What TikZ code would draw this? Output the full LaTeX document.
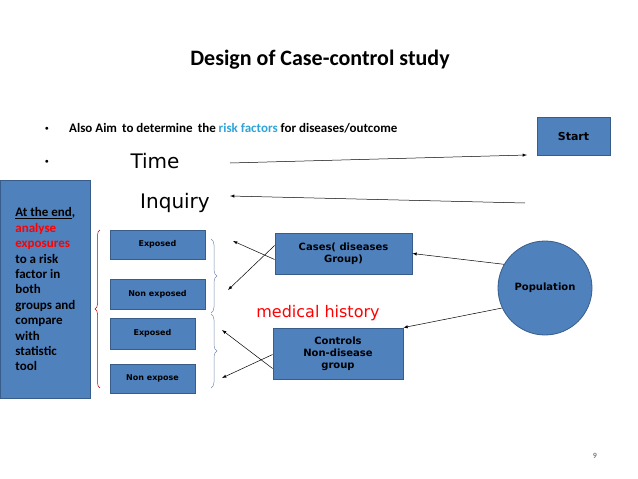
\documentclass[tikz,border=0pt]{standalone}
\usepackage{fontspec}
\setmainfont{Carlito}
\newfontfamily\cond{Carlito}
\newfontfamily\djv{DejaVu Sans}
\usetikzlibrary{decorations.pathreplacing}
\definecolor{bx}{HTML}{4F81BD}
\definecolor{bd}{HTML}{385D8A}
\definecolor{rf}{HTML}{2FA4D8}
\begin{document}
\begin{tikzpicture}[x=1pt,y=-1pt,
 box/.style={draw=bd,fill=bx,line width=0.8pt,inner sep=2pt,font=\djv\bfseries\fontsize{8}{9.5}\selectfont,align=center},
 arr/.style={-latex,line width=0.5pt},
 every node/.style={inner sep=1pt}]
\useasboundingbox (0,0) rectangle (638,479);
\node (title) at (320,60) {\bfseries\fontsize{22}{26}\selectfont Design of Case-control study};
\node (b1) at (47,129) {\fontsize{7}{8}\selectfont $\bullet$};
\node (b2) at (47,162) {\fontsize{7}{8}\selectfont $\bullet$};
\node[anchor=west] (aim) at (68,128) {\bfseries\fontsize{13}{15}\selectfont Also Aim\, to determine\, the \textcolor{rf}{risk factors} for diseases/outcome};
\node[box,minimum width=73pt,minimum height=38pt,font=\djv\bfseries\fontsize{11}{13}\selectfont] (start) at (573.5,136) {Start};
\node (time) at (155,161) {\djv\fontsize{20}{24}\selectfont Time};
\node (inq) at (175,203) {\djv\fontsize{20}{24}\selectfont Inquiry};
\coordinate (t1) at (230,163); \coordinate (t2) at (527,155);
\coordinate (i1) at (525,203); \coordinate (i2) at (230,196);
\draw[arr] (t1) -- (t2);
\draw[arr] (i1) -- (i2);
\node[box,anchor=north west,minimum width=90pt,minimum height=218pt,align=left,inner sep=3pt,font=\cond\bfseries\fontsize{13}{15.4}\selectfont] (end) at (0,180)
 {\underline{At the end},\\\textcolor{red}{analyse}\\\textcolor{red}{exposures}\\to a risk\\factor in\\both\\groups and\\compare\\with\\statistic\\tool};
\node[box,minimum width=95pt,minimum height=29pt] (e1) at (157.5,244.5) {Exposed};
\node[box,minimum width=95pt,minimum height=30pt] (n1) at (157.5,294) {Non exposed};
\node[box,minimum width=85pt,minimum height=31pt] (e2) at (152.5,333.5) {Exposed};
\node[box,minimum width=85pt,minimum height=29pt] (n2) at (152.5,378.5) {Non expose};
\draw[red!70!black,line width=0.5pt,decorate,decoration={brace,amplitude=5pt,mirror}] (100,230) -- (100,388);
\draw[bd!70,line width=0.5pt,decorate,decoration={brace,amplitude=6pt}] (211,239) -- (211,313);
\draw[bd!70,line width=0.5pt,decorate,decoration={brace,amplitude=6pt}] (211,314) -- (211,388);
\node[box,minimum width=137pt,minimum height=41pt,font=\djv\bfseries\fontsize{10}{12}\selectfont] (cases) at (343.5,253.5) {Cases( diseases\\Group)};
\node[box,minimum width=130pt,minimum height=51pt,font=\djv\bfseries\fontsize{10}{12}\selectfont] (ctrl) at (338,353.5) {Controls\\Non-disease\\group};
\node[text=red] (med) at (318,313) {\djv\fontsize{16}{19}\selectfont medical history};
\node[circle,draw=bd,fill=bx,line width=0.8pt,minimum size=94pt,font=\djv\bfseries\fontsize{10}{12}\selectfont] (pop) at (545,288) {Population};
\draw[arr] (pop.150) -- (cases.east);
\draw[arr] (pop.205) -- (ctrl.north east);
\draw[arr] ([yshift=-6pt]cases.west) -- (233,241);
\draw[arr] ([yshift=8pt]cases.west) -- (228,290);
\draw[arr] ([yshift=-15pt]ctrl.west) -- (222,330);
\draw[arr] ([yshift=-1pt]ctrl.west) -- (222,378);
\node[text=gray] (pg) at (595,456) {\fontsize{8}{10}\selectfont\bfseries 9};
\end{tikzpicture}
\end{document}
